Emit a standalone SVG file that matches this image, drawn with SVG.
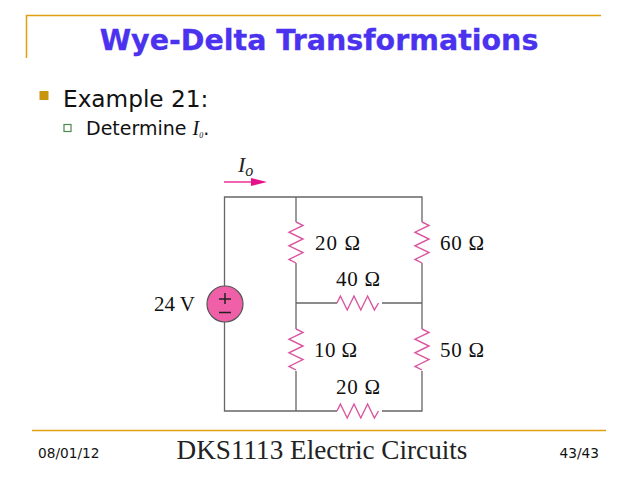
<svg xmlns="http://www.w3.org/2000/svg" width="638" height="478" viewBox="0 0 638 478">
<defs>
<path id="rv" d="M0 0L7 3.4L-7 10.2L7 17L-7 23.8L7 30.6L-7 37.4L0 41"/>
<path id="rh" d="M0 0L3.4 -7L10.2 7L17 -7L23.8 7L30.6 -7L37.4 7L41.5 0"/>
</defs>
<style>
.bar{stroke:#e0a010;stroke-width:1.5;fill:none}
.w{stroke:#666;stroke-width:1.3;fill:none}
.r{stroke:#d9559f;stroke-width:1.4;fill:none}
.c{font-family:"Liberation Serif",serif;font-size:21px;fill:#111}
.s{font-family:"DejaVu Sans",sans-serif;fill:#111}
</style>
<rect width="638" height="478" fill="#fff"/>
<path class="bar" d="M26.500 58V15.500H601"/>
<path class="bar" d="M32 430.500H606"/>
<text x="319" y="50" text-anchor="middle" font-family="DejaVu Sans,sans-serif" font-weight="700" font-size="28.500" stroke="#4a32ee" stroke-width="0.300" fill="#4a32ee">Wye-Delta Transformations</text>
<rect x="39.500" y="91" width="9" height="9" fill="#c8960c"/>
<text class="s" x="63" y="107" font-size="23.200">Example 21:</text>
<rect x="64" y="124.500" width="7" height="7" fill="#fff" stroke="#4a8a4a" stroke-width="1.200"/>
<text class="s" x="86" y="135" font-size="19">Determine <tspan font-family="Liberation Serif,serif" font-style="italic" font-size="20">I</tspan><tspan font-family="Liberation Serif,serif" font-style="italic" font-size="8" dy="3">0</tspan><tspan dy="-3">.</tspan></text>
<g id="connectors">
<path class="w" d="M224.500 286V197H422V222M296 197V222M296 263V329M296 303H337M382 303H422M422 263V329M296 371V411M422 371V411H382M337 411H224.500V322"/>
<path d="M224 182H252" stroke="#e8108a" stroke-width="1.300" fill="none"/>
<path d="M251 178L267 182L251 186Z" fill="#e8108a"/>
</g>
<g id="r1"><use href="#rv" class="r" x="296" y="222"/><text class="c" x="315" y="250" textLength="45">20 Ω</text></g>
<g id="r2"><use href="#rv" class="r" x="422" y="222"/><text class="c" x="440" y="250" textLength="44">60 Ω</text></g>
<g id="r3"><use href="#rh" class="r" x="337" y="303"/><text class="c" x="336" y="286" textLength="44">40 Ω</text></g>
<g id="r4"><use href="#rv" class="r" x="296" y="329"/><text class="c" x="314" y="357" textLength="43">10 Ω</text></g>
<g id="r5"><use href="#rv" class="r" x="422" y="329"/><text class="c" x="440" y="357" textLength="44">50 Ω</text></g>
<g id="r6"><use href="#rh" class="r" x="337" y="411"/><text class="c" x="336" y="394" textLength="44">20 Ω</text></g>
<g id="source">
<circle cx="225" cy="304" r="18" fill="#f060a8" stroke="#555" stroke-width="1.200"/>
<path d="M219 299H231M225 293V304M219 312.500H231" stroke="#222" stroke-width="1.500" fill="none"/>
<text class="c" x="154" y="311">24 V</text>
</g>
<text x="238" y="172" font-family="Liberation Serif,serif" font-style="italic" font-size="22" fill="#222">I<tspan font-size="16" dy="4">o</tspan></text>
<text x="38" y="458" font-family="DejaVu Sans,sans-serif" font-size="13.700" fill="#111">08/01/12</text>
<text x="176.500" y="459" font-family="Liberation Serif,serif" font-size="27.200" fill="#222">DKS1113 Electric Circuits</text>
<text x="599" y="458" text-anchor="end" font-family="DejaVu Sans,sans-serif" font-size="13.700" fill="#111">43/43</text>
</svg>
